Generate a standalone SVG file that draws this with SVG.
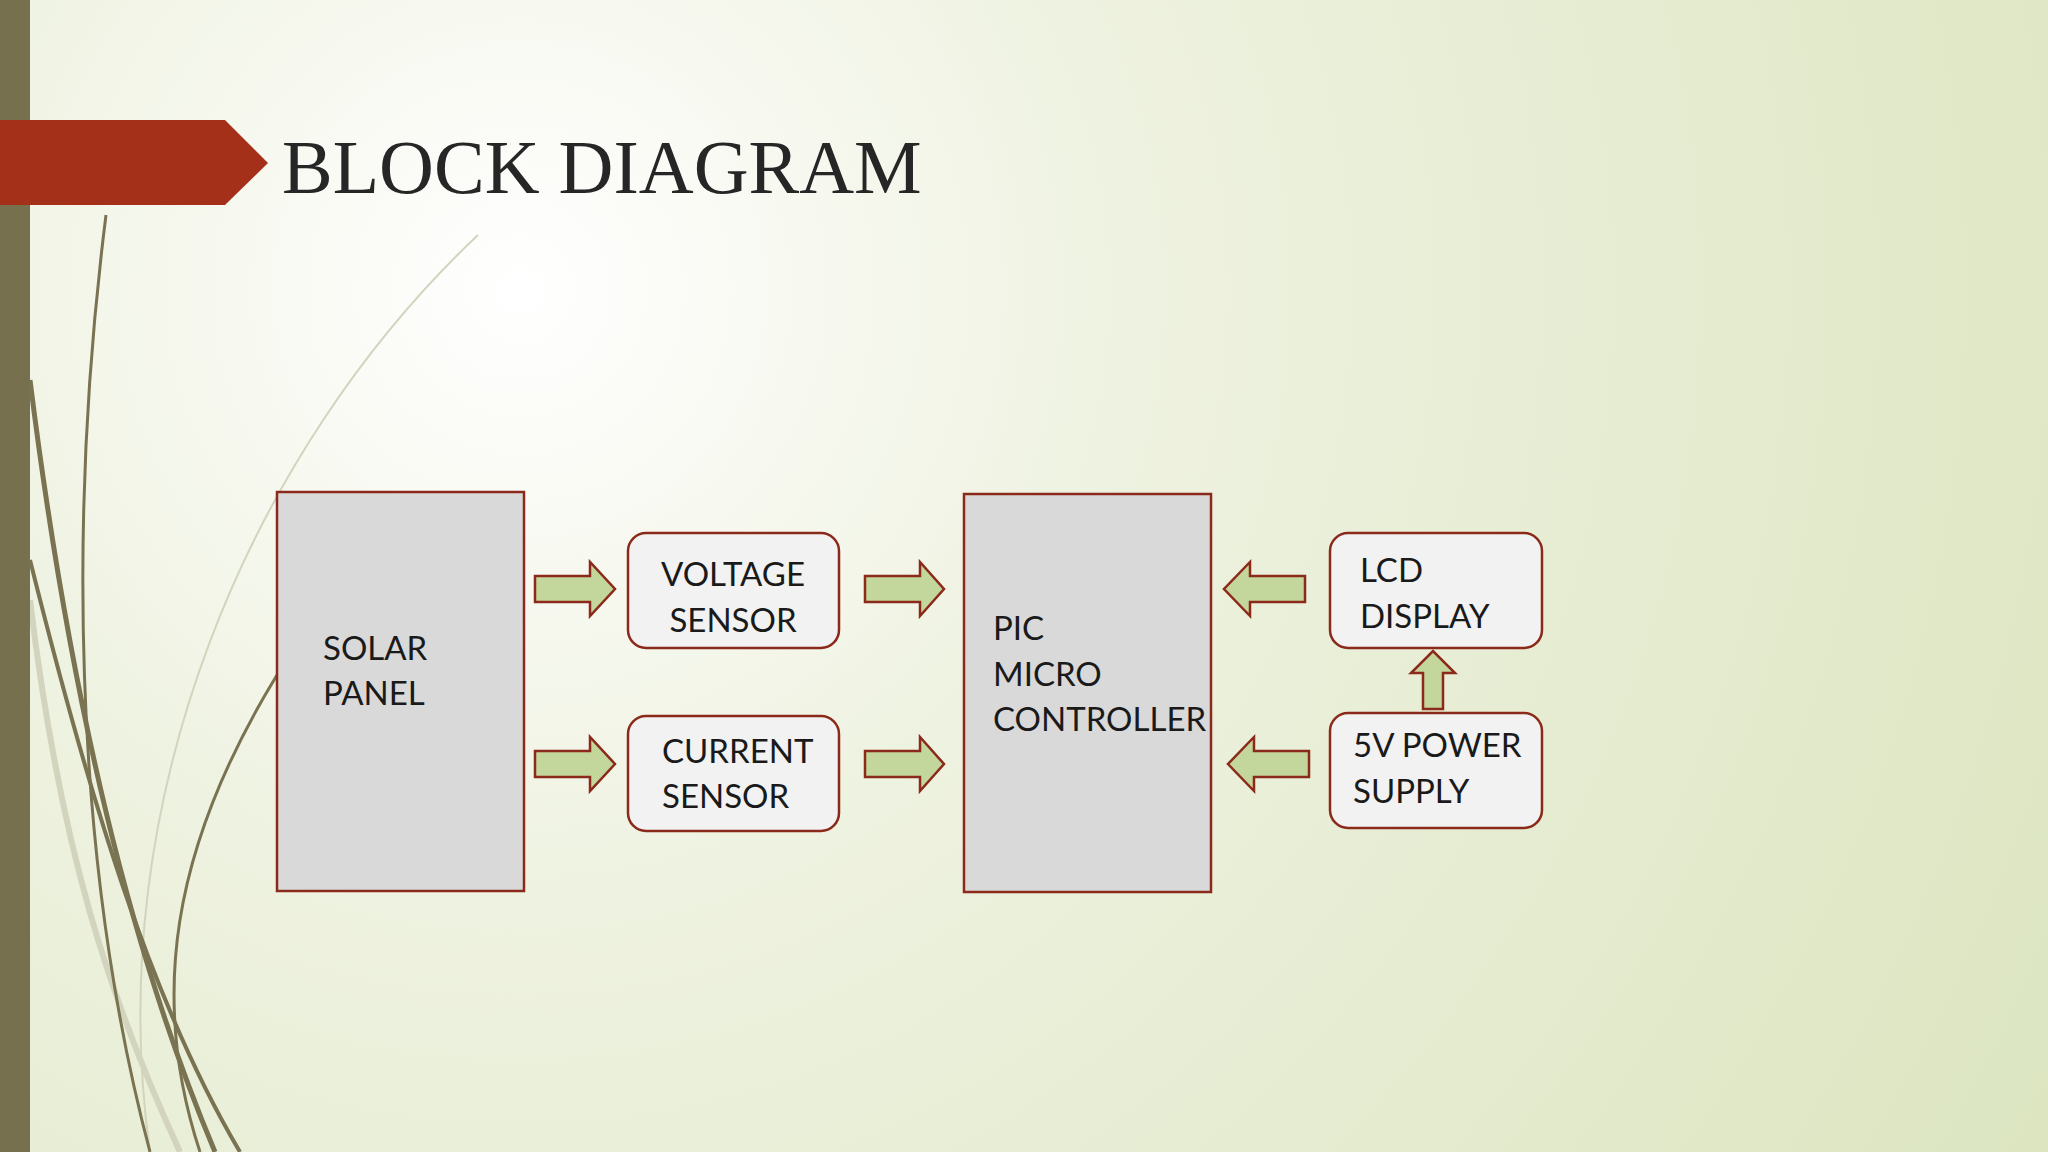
<svg xmlns="http://www.w3.org/2000/svg" width="2048" height="1152" viewBox="0 0 2048 1152">
<defs>
<radialGradient id="bg" cx="520" cy="290" r="1750" gradientUnits="userSpaceOnUse">
<stop offset="0" stop-color="#ffffff"/><stop offset="0.35" stop-color="#eef2e0"/><stop offset="1" stop-color="#dce5c0"/>
</radialGradient>
</defs>
<style>
.box{fill:#d9d9d9;stroke:#8b2a1a;stroke-width:2.5}
.rbox{fill:#f2f2f2;stroke:#8b2a1a;stroke-width:2.5}
.arr{fill:#c3d69b;stroke:#8b2a1a;stroke-width:2.5}
.t{font-family:Lato,"Liberation Sans",sans-serif;font-size:33px;fill:#1a1a1a}
.deco{fill:none;stroke:#7a7352}
.pale{fill:none;stroke:#d2d4bd}
</style>
<rect width="2048" height="1152" fill="url(#bg)"/>
<g id="decoration">
<path class="pale" stroke-width="2" d="M478 235 C250 450 100 800 150 1152"/>
<path class="pale" stroke-width="6" d="M30 600 C60 850 110 1000 180 1152"/>
<path class="deco" stroke-width="3" d="M106 215 C70 500 70 850 150 1152"/>
<path class="deco" stroke-width="5" d="M30 380 C70 700 130 950 215 1152"/>
<path class="deco" stroke-width="4" d="M30 560 C90 800 150 1000 240 1152"/>
<path class="deco" stroke-width="3" d="M277 675 C170 850 150 1000 200 1152"/>
</g>
<rect x="0" y="0" width="30" height="1152" fill="#76704f"/>
<polygon points="0,120 225,120 268,163 225,205 0,205" fill="#a5301a"/>
<text x="282" y="193" font-family="Liberation Serif,serif" font-size="76" fill="#262626">BLOCK DIAGRAM</text>
<g id="connectors">
<polygon class="arr" points="535,576 590,576 590,562 615,589 590,616 590,602 535,602"/>
<polygon class="arr" points="865,576 920,576 920,562 944,589 920,616 920,602 865,602"/>
<polygon class="arr" points="535,751 590,751 590,737 615,764 590,791 590,777 535,777"/>
<polygon class="arr" points="865,751 920,751 920,737 944,764 920,791 920,777 865,777"/>
<polygon class="arr" points="1305,576 1250,576 1250,562 1224,589 1250,616 1250,602 1305,602"/>
<polygon class="arr" points="1309,751 1254,751 1254,737 1228,764 1254,791 1254,777 1309,777"/>
<polygon class="arr" points="1423,709 1423,673 1411,673 1433,651 1455,673 1443,673 1443,709"/>
</g>
<g id="solar"><rect class="box" x="277" y="492" width="247" height="399"/><text class="t" x="323" y="660">SOLAR</text><text class="t" x="323" y="705">PANEL</text></g>
<g id="voltage"><rect class="rbox" x="628" y="533" width="211" height="115" rx="18"/><text class="t" x="733" y="586" text-anchor="middle">VOLTAGE</text><text class="t" x="733" y="632" text-anchor="middle">SENSOR</text></g>
<g id="current"><rect class="rbox" x="628" y="716" width="211" height="115" rx="18"/><text class="t" x="662" y="763">CURRENT</text><text class="t" x="662" y="808">SENSOR</text></g>
<g id="pic"><rect class="box" x="964" y="494" width="247" height="398"/><text class="t" x="993" y="640">PIC</text><text class="t" x="993" y="686">MICRO</text><text class="t" x="993" y="731">CONTROLLER</text></g>
<g id="lcd"><rect class="rbox" x="1330" y="533" width="212" height="115" rx="18"/><text class="t" x="1360" y="582">LCD</text><text class="t" x="1360" y="628">DISPLAY</text></g>
<g id="power"><rect class="rbox" x="1330" y="713" width="212" height="115" rx="18"/><text class="t" x="1353" y="757">5V POWER</text><text class="t" x="1353" y="803">SUPPLY</text></g>
</svg>
